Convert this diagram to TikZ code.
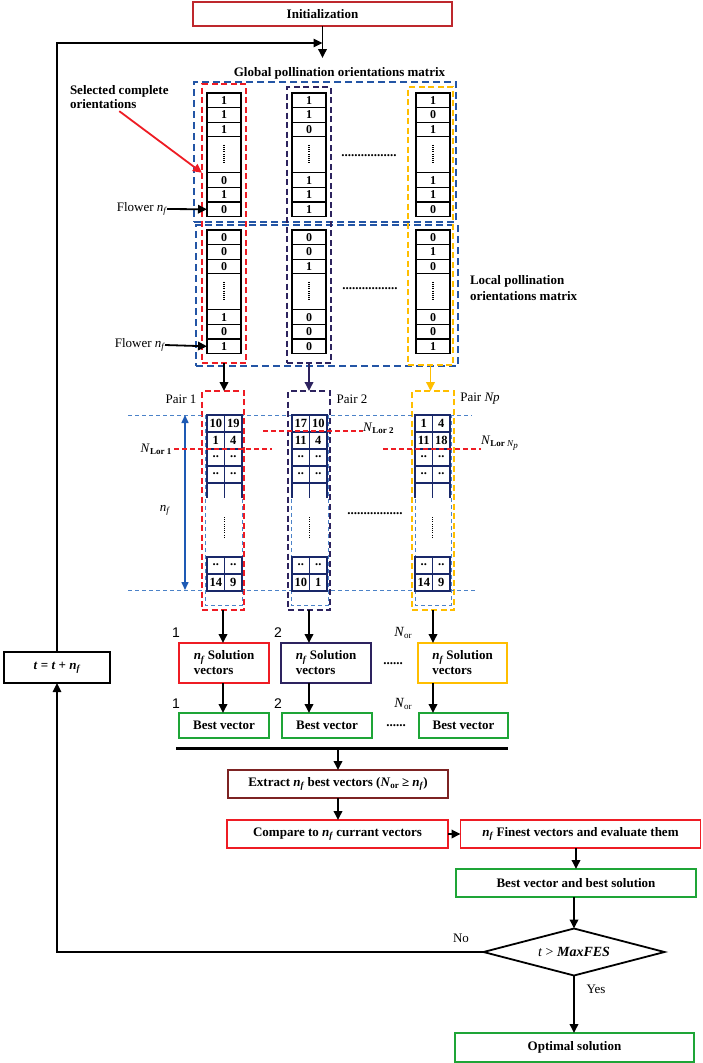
\documentclass[tikz,border=0pt]{standalone}
\usepackage{fontspec}
\setmainfont{Liberation Serif}
\setsansfont{Liberation Sans}
\usetikzlibrary{arrows.meta,shapes.geometric,calc}
\definecolor{initred}{RGB}{190,40,45}
\definecolor{bred}{RGB}{238,28,36}
\definecolor{exred}{RGB}{125,35,35}
\definecolor{navy}{RGB}{45,35,95}
\definecolor{gold}{RGB}{255,190,0}
\definecolor{mblue}{RGB}{35,85,165}
\definecolor{lblue}{RGB}{75,130,200}
\definecolor{gridnavy}{RGB}{25,40,105}
\definecolor{fgreen}{RGB}{30,165,55}
\definecolor{nfblue}{RGB}{30,90,180}
\newcommand{\sbs}[1]{\raisebox{-0.35ex}{\fontsize{9}{9}\selectfont #1}}
\newcommand{\nf}{\textit{n}\sbs{\textit{f}}}
\newcommand{\dd}{\raisebox{0.35ex}{..}}
\newcommand{\matcol}[9]{%
  \node[cell] (#1a) at (#2+17,#3+7.3) {#4};
  \node[cell] (#1b) at (#2+17,#3+21.9) {#5};
  \node[cell] (#1c) at (#2+17,#3+36.5) {#6};
  \node[cell, minimum height=36pt] (#1d) at (#2+17,#3+61.8) {};
  \draw[vdots] ($(#1d.north)+(0,8)$) -- ($(#1d.north)+(0,27)$);
  \node[cell] (#1e) at (#2+17,#3+87.1) {#7};
  \node[cell] (#1f) at (#2+17,#3+101.7) {#8};
  \node[cell] (#1g) at (#2+17,#3+116.3) {#9};
}
\newcommand{\pgrid}[8]{%
  \node[gcell] (#1aL) at (#2+8.75,423.5) {#3};
  \node[gcell] (#1aR) at (#2+26.25,423.5) {#4};
  \node[gcell] (#1bL) at (#2+8.75,440.5) {#5};
  \node[gcell] (#1bR) at (#2+26.25,440.5) {#6};
  \node[gcell] (#1cL) at (#2+8.75,457.5) {\dd};
  \node[gcell] (#1cR) at (#2+26.25,457.5) {\dd};
  \node[gcell] (#1dL) at (#2+8.75,474.5) {\dd};
  \node[gcell] (#1dR) at (#2+26.25,474.5) {\dd};
  \draw[draw=gridnavy, line width=1.5pt] (#1dL.south west) -- ++(0,15)
     (#1dL.south east) -- ++(0,15) (#1dR.south east) -- ++(0,15);
  \node[gcell] (#1eL) at (#2+8.75,565.5) {\dd};
  \node[gcell] (#1eR) at (#2+26.25,565.5) {\dd};
  \node[gcell] (#1fL) at (#2+8.75,582.5) {#7};
  \node[gcell] (#1fR) at (#2+26.25,582.5) {#8};
  \draw[vdots] (#2+17.5,517) -- (#2+17.5,537);
}
\begin{document}
\begin{tikzpicture}[x=1pt,y=-1pt,
  every node/.style={inner sep=0pt, outer sep=0pt},
  arr/.style={line width=1.8pt, -{Triangle[length=9pt,width=8.5pt]}},
  looparr/.style={line width=1.4pt, -{Triangle[length=9pt,width=8.5pt]}},
  cell/.style={draw, line width=1.3pt, minimum width=34pt, minimum height=14.6pt,
    font=\bfseries\fontsize{12}{12}\selectfont},
  gcell/.style={draw=gridnavy, line width=1.5pt, minimum width=17.5pt, minimum height=17pt,
    font=\bfseries\fontsize{12.5}{12.5}\selectfont},
  vdots/.style={line width=1.8pt, dash pattern=on 1pt off 1.2pt},
  cframe/.style={draw, line width=2pt, dash pattern=on 6pt off 3.5pt},
  bframe/.style={draw=mblue, line width=1.8pt, dash pattern=on 7pt off 4pt},
  fbox/.style={draw, line width=1.7pt, align=center, font=\bfseries\fontsize{13}{15}\selectfont},
  lbl/.style={font=\fontsize{13}{15}\selectfont},
  blbl/.style={font=\bfseries\fontsize{13}{15}\selectfont},
  numlbl/.style={font=\sffamily\fontsize{14}{14}\selectfont},
  lordash/.style={draw=bred, line width=1.3pt, dash pattern=on 5pt off 3pt},
  hdash/.style={draw=lblue, line width=1pt, dash pattern=on 4pt off 3pt}
]
\fill[white] (0,0) rectangle (702,1063);
\path[use as bounding box] (0,0) rectangle (702,1063);

% ---------- initialization and loop ----------
\node[fbox, draw=initred, minimum width=259pt, minimum height=24pt] (init) at (322.5,14) {Initialization};
\coordinate (initend) at (322.5,58);
\coordinate (join) at (322.5,43);
\draw[arr] (init.south) -- (initend);
\node[blbl] (gtitle) at (339.5,73) {Global pollination orientations matrix};

% ---------- global / local matrices ----------
\node[bframe, minimum width=262pt, minimum height=140pt] (gmat) at (325,152) {};
\node[bframe, minimum width=262pt, minimum height=141pt] (lmat) at (327,295.5) {};
\node[cframe, draw=bred, minimum width=44pt, minimum height=279pt] (c1) at (224,223.5) {};
\node[cframe, draw=navy, minimum width=44pt, minimum height=276pt] (c2) at (309,225) {};
\node[cframe, draw=gold, minimum width=45pt, minimum height=278pt] (c3) at (430.5,226) {};

\matcol{ga}{207}{93}{1}{1}{1}{0}{1}{0}
\matcol{gb}{292}{93}{1}{1}{0}{1}{1}{1}
\matcol{gc}{416}{93}{1}{0}{1}{1}{1}{0}
\matcol{la}{207}{230}{0}{0}{0}{1}{0}{1}
\matcol{lb}{292}{230}{0}{0}{1}{0}{0}{0}
\matcol{lc}{416}{230}{0}{1}{0}{0}{0}{1}

\node[blbl] (gdots) at (369,156) {.................};
\node[blbl] (ldots) at (370,289) {.................};

\node[blbl, align=left, anchor=north west, font=\bfseries\fontsize{13}{14}\selectfont] (sel) at (70,85) {Selected complete\\orientations};
\draw[arr, draw=bred] (sel.south) ++(0,3) -- (c1.west |- gae.north);

\node[lbl, anchor=east] (fl1) at (167,209) {Flower \nf};
\draw[arr] (fl1.east) -- (gag.west);
\node[lbl, anchor=east] (fl2) at (165,345) {Flower \nf};
\draw[arr] (fl2.east) -- (lag.west);

\node[blbl, align=left, anchor=north west, font=\bfseries\fontsize{13}{16}\selectfont] (loc) at (470,275) {Local pollination\\orientations matrix};

% ---------- pairs ----------
\node[cframe, draw=bred, minimum width=42pt, minimum height=219pt] (p1) at (223,500.5) {};
\node[cframe, draw=navy, minimum width=42pt, minimum height=219pt] (p2) at (309,500.5) {};
\node[cframe, draw=gold, minimum width=42pt, minimum height=219pt] (p3) at (433,500.5) {};
\draw[arr] (c1.south) -- (c1.south |- p1.north);
\draw[arr, draw=navy] (c2.south) -- (c2.south |- p2.north);
\draw[arr, draw=gold] (c3.south) -- (c3.south |- p3.north);

\node[lbl] (pl1) at (181,399) {Pair 1};
\node[lbl] (pl2) at (352,399) {Pair 2};
\node[lbl] (pl3) at (480,399) {Pair \textit{Np}};

\coordinate (hl1) at (128,415); \coordinate (hr1) at (472,415);
\coordinate (hl2) at (128,590); \coordinate (hr2) at (476,590);
\draw[hdash] (hl1) -- (hr1);
\draw[hdash] (hl2) -- (hr2);
\draw[hdash] (205,415) rectangle (242,605);
\draw[hdash] (291,415) rectangle (328,605);
\draw[hdash] (415,415) rectangle (451,605);

\pgrid{qa}{207}{10}{19}{1}{4}{14}{9}
\pgrid{qb}{292}{17}{10}{11}{4}{10}{1}
\pgrid{qc}{415}{1}{4}{11}{18}{14}{9}

\node[blbl] (pdots) at (375,514) {.................};

\coordinate (nfT) at (185,415); \coordinate (nfB) at (185,590);
\draw[draw=nfblue, line width=1.5pt, {Triangle[length=8pt,width=7pt]}-{Triangle[length=8pt,width=7pt]}] (nfT) -- (nfB);
\node[lbl] (nflbl) at (165,510) {\nf};

\node[lbl] (lor1) at (156,449) {\textit{N}\sbs{\textbf{Lor 1}}};
\coordinate (lor1e) at (272,449);
\draw[lordash] (lor1.east) ++(3,0) -- (lor1e);
\node[lbl, anchor=west] (lor2) at (363,428) {\textit{N}\sbs{\textbf{Lor 2}}};
\coordinate (lor2s) at (263,431);
\draw[lordash] (lor2s) -- (lor2.west |- lor2s);
\node[lbl, anchor=west] (lor3) at (481,443) {\textit{N}\sbs{\textbf{Lor} \textit{N}\sbs{\textit{p}}}};
\coordinate (lor3s) at (383,449);
\draw[lordash] (lor3s) -- (lor3.west |- lor3s);

% ---------- solution vectors ----------
\node[fbox, draw=bred, minimum width=90pt, minimum height=40pt, align=left] (s1) at (224,663) {\nf\ Solution\\vectors};
\node[fbox, draw=navy, minimum width=90pt, minimum height=40pt, align=left] (s2) at (326,663) {\nf\ Solution\\vectors};
\node[fbox, draw=gold, minimum width=89pt, minimum height=40pt, align=left] (s3) at (462.5,663) {\nf\ Solution\\vectors};
\draw[arr] (p1.south) -- (p1.south |- s1.north);
\draw[arr] (p2.south) -- (p2.south |- s2.north);
\draw[arr] (p3.south) -- (p3.south |- s3.north);

\node[fbox, draw=fgreen, minimum width=90pt, minimum height=25pt] (b1) at (224,725.5) {Best vector};
\node[fbox, draw=fgreen, minimum width=90pt, minimum height=25pt] (b2) at (327,725.5) {Best vector};
\node[fbox, draw=fgreen, minimum width=89pt, minimum height=25pt] (b3) at (463.5,725.5) {Best vector};
\draw[arr] (p1.south |- s1.south) -- (p1.south |- b1.north);
\draw[arr] (p2.south |- s2.south) -- (p2.south |- b2.north);
\draw[arr] (p3.south |- s3.south) -- (p3.south |- b3.north);

\node[numlbl] (n1a) at (176,633) {1};
\node[numlbl] (n2a) at (278,633) {2};
\node[lbl, font=\fontsize{14}{14}\selectfont] (n3a) at (403,633) {\textit{N}\sbs{or}};
\node[numlbl] (n1b) at (176,704) {1};
\node[numlbl] (n2b) at (278,704) {2};
\node[lbl, font=\fontsize{14}{14}\selectfont] (n3b) at (403,704) {\textit{N}\sbs{or}};
\node[blbl] (sdots) at (393,664) {......};
\node[blbl] (bdots) at (396,726) {......};

% ---------- bar and lower flow ----------
\coordinate (barL) at (176,748); \coordinate (barR) at (508,748);
\draw[line width=3pt] (barL) -- (barR);
\node[fbox, draw=exred, minimum width=220pt, minimum height=28pt] (ex) at (338,784) {Extract \nf\ best vectors (\textit{N}\sbs{or} ≥ \nf)};
\draw[arr] (ex.north |- barL) -- (ex.north);
\node[fbox, draw=bred, minimum width=221pt, minimum height=28pt] (cmp) at (337.5,834) {Compare to \nf\ currant vectors};
\node[fbox, draw=bred, minimum width=240pt, minimum height=28pt] (fin) at (580.5,834) {\nf\ Finest vectors and evaluate them};
\draw[arr] (ex.south) -- (ex.south |- cmp.north);
\draw[arr] (cmp.east) -- (fin.west);
\node[fbox, draw=fgreen, minimum width=240pt, minimum height=28pt] (bvs) at (576,883) {Best vector and best solution};
\draw[arr] (bvs.north |- fin.south) -- (bvs.north);
\node[diamond, draw, line width=1.8pt, aspect=3.85, minimum width=181pt, minimum height=47pt,
  font=\fontsize{14}{14}\selectfont] (dia) at (574,952) {\textit{t} > \textbf{\textit{MaxFES}}};
\draw[arr] (bvs.south -| dia.north) -- (dia.north);
\node[fbox, draw=fgreen, minimum width=239pt, minimum height=29pt] (opt) at (574.5,1047.5) {Optimal solution};
\draw[arr] (dia.south) -- (dia.south |- opt.north);
\node[lbl] (yes) at (596,989) {Yes};
\node[lbl] (no) at (461,938) {No};

\node[fbox, draw=black, minimum width=106pt, minimum height=31pt] (tbox) at (57,667.5) {\textit{t} = \textit{t} + \nf};
\draw[looparr] (dia.west) -| (tbox.south);
\draw[looparr] (tbox.north) |- (join);
\end{tikzpicture}
\end{document}
